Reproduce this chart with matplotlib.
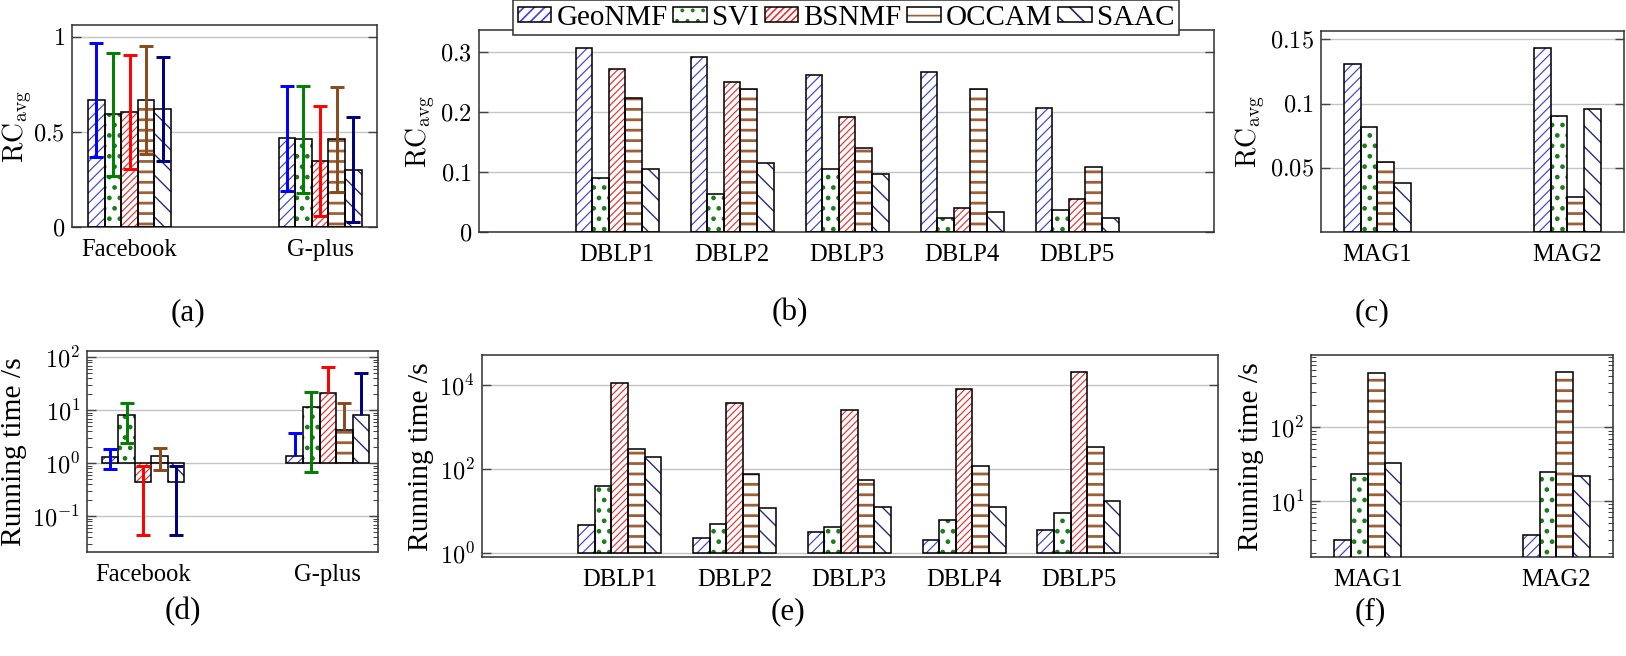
import matplotlib
matplotlib.use("Agg")
import matplotlib.pyplot as plt
import numpy as np
from matplotlib.patches import Patch
from matplotlib.ticker import FixedLocator, LogLocator, NullLocator, NullFormatter

plt.rcParams['font.family'] = ['Liberation Serif', 'DejaVu Serif']
plt.rcParams['mathtext.fontset'] = 'cm'
plt.rcParams['hatch.linewidth'] = 1.0

W, H, DPI = 1626, 656, 125

methods = ["GeoNMF", "SVI", "BSNMF", "OCCAM", "SAAC"]
hatch_colors = ['#4646dc', '#1d7d1d', '#e63636', '#9c5f38', '#2a2a78']
err_colors = ['#0000ff', '#008000', '#ff0000', '#8b4a1c', '#000080']
hatches = ['////', '..', '//////', '--', '\\\\']
hatch_lw = [0.7, 1.5, 0.7, 1.6, 0.8]

# (a) RC on Facebook / G-plus, mean and std
social = ["Facebook", "G-plus"]
rc_social = [[0.670, 0.468], [0.595, 0.463], [0.605, 0.348], [0.670, 0.463], [0.623, 0.304]]
rc_social_err = [[0.300, 0.277], [0.325, 0.283], [0.300, 0.288], [0.285, 0.278], [0.275, 0.277]]

# (b) RC on DBLP
dblp = ["DBLP1", "DBLP2", "DBLP3", "DBLP4", "DBLP5"]
rc_dblp = [[0.307, 0.292, 0.262, 0.267, 0.207],
           [0.090, 0.063, 0.105, 0.023, 0.037],
           [0.272, 0.250, 0.192, 0.040, 0.055],
           [0.223, 0.238, 0.140, 0.238, 0.108],
           [0.105, 0.115, 0.097, 0.033, 0.024]]

# (c) RC on MAG (no BSNMF)
mag = ["MAG1", "MAG2"]
mag_idx = [0, 1, 3, 4]
rc_mag = [[0.1305, 0.143], [0.082, 0.0906], [0.0547, 0.0273], [0.0383, 0.0961]]

# (d) running time on Facebook / G-plus, lower and upper error
time_social = [[1.30, 1.355], [8.05, 11.4], [0.444, 20.9], [1.355, 4.2], [0.444, 8.05]]
time_social_lo = [[0.53, 2.43], [5.6, 10.7], [0.40, 45.8], [0.62, 9.5], [0.40, 42.5]]
time_social_hi = [[0.59, 2.43], [5.9, 10.5], [0.446, 45.8], [0.62, 9.5], [0.446, 42.5]]

# (e) running time on DBLP
time_dblp = [[4.64, 2.28, 3.16, 2.04, 3.53],
             [40.1, 4.9, 4.16, 6.1, 8.96],
             [11160, 3728, 2540, 8035, 20400],
             [299, 76, 54.7, 118, 334],
             [193, 11.8, 12.5, 12.5, 17.3]]

# (f) running time on MAG
time_mag = [[2.92, 3.42], [23.0, 24.5], [547, 564], [32.5, 21.8]]


fig = plt.figure(figsize=(W / DPI, H / DPI), dpi=DPI)


def add_axes(l, r, t, b):
    return fig.add_axes([l / W, 1 - b / H, (r - l) / W, (b - t) / H])


def offsets(n, width):
    return (np.arange(n) - (n - 1) / 2) * width


def draw_bars(ax, values, idx, width, base=0.0):
    x = np.arange(len(values[0]))
    offs = offsets(len(idx), width)
    for k, m in enumerate(idx):
        xs = x + offs[k]
        v = np.asarray(values[k], dtype=float)
        bars = ax.bar(xs, v - base, width, bottom=base, color='white',
                      edgecolor=hatch_colors[m], hatch=hatches[m], linewidth=0, zorder=2)
        for b in bars:
            if hasattr(b, 'set_hatch_linewidth'):
                b.set_hatch_linewidth(hatch_lw[m])
        ax.bar(xs, v - base, width, bottom=base, fill=False, edgecolor='black',
               linewidth=0.9, zorder=3)


def draw_err(ax, values, lo, hi, idx, width):
    x = np.arange(len(values[0]))
    offs = offsets(len(idx), width)
    for k, m in enumerate(idx):
        xs = x + offs[k]
        v = np.asarray(values[k], dtype=float)
        low = v - np.asarray(lo[k])
        high = v + np.asarray(hi[k])
        ok = low > 0
        ax.vlines(xs, np.where(ok, low, v), high, colors=err_colors[m], lw=1.7, zorder=4)
        ax.plot(xs, high, ls='none', marker='_', ms=8.5, mew=1.7, color=err_colors[m], zorder=4)
        ax.plot(xs[ok], low[ok], ls='none', marker='_', ms=8.5, mew=1.7, color=err_colors[m], zorder=4)


def style(ax, labels, xlim, ylabel, mathlabel, label_x=None):
    ax.set_xlim(*xlim)
    ax.set_xticks(np.arange(len(labels)))
    ax.set_xticklabels(labels, fontsize=14.2)
    ax.tick_params(axis='x', length=0, pad=7)
    ax.tick_params(axis='y', which='both', direction='in', left=True, right=True,
                   labelsize=14, color='#444444', pad=4)
    ax.tick_params(axis='y', which='major', length=5, width=0.8)
    ax.tick_params(axis='y', which='minor', length=3, width=0.6)
    ax.set_axisbelow(True)
    ax.yaxis.grid(True, which='major', color='#c4c4c4', lw=0.8)
    for s in ax.spines.values():
        s.set_color('#333333')
        s.set_linewidth(0.9)
    if mathlabel:
        ax.set_ylabel(ylabel, fontsize=16, labelpad=2)
    else:
        ax.set_ylabel(ylabel, fontsize=17, labelpad=3)
    if label_x is not None:
        ax.yaxis.set_label_coords(label_x, 0.5)


rc_label = r'$\mathrm{RC}_{\mathrm{avg}}$'
time_label = 'Running time /s'

# (a)
ax = add_axes(72, 377, 25, 227.3)
draw_bars(ax, rc_social, range(5), 0.0872)
draw_err(ax, rc_social, rc_social_err, rc_social_err, range(5), 0.0872)
ax.set_ylim(0, 1.065)
ax.set_yticks([0, 0.5, 1])
ax.set_yticklabels(['$0$', '$0.5$', '$1$'])
style(ax, social, (-0.302, 1.299), rc_label, True, label_x=-0.126)

# (b)
ax = add_axes(479, 1214, 30, 232.3)
draw_bars(ax, rc_dblp, range(5), 0.1443)
ax.set_ylim(0, 0.337)
ax.set_yticks([0, 0.1, 0.2, 0.3])
ax.set_yticklabels(['$0$', '$0.1$', '$0.2$', '$0.3$'])
style(ax, dblp, (-1.2, 5.19), rc_label, True)

# (c)
ax = add_axes(1321, 1624, 30.7, 232.3)
draw_bars(ax, rc_mag, mag_idx, 0.0879)
ax.set_ylim(0, 0.1567)
ax.set_yticks([0.05, 0.1, 0.15])
ax.set_yticklabels(['$0.05$', '$0.1$', '$0.15$'])
style(ax, mag, (-0.296, 1.298), rc_label, True)


def log_ticks(ax, exps, minor=True):
    ax.yaxis.set_major_locator(FixedLocator([10.0 ** e for e in exps]))
    ax.set_yticklabels(['$10^{%d}$' % e for e in exps])
    if minor:
        ax.yaxis.set_minor_locator(LogLocator(base=10, subs=np.arange(2, 10)))
    else:
        ax.yaxis.set_minor_locator(NullLocator())
    ax.yaxis.set_minor_formatter(NullFormatter())


# (d)
ax = add_axes(87.3, 378, 350.7, 552)
ax.set_yscale('log')
draw_bars(ax, time_social, range(5), 0.0894, base=1.0)
draw_err(ax, time_social, time_social_lo, time_social_hi, range(5), 0.0894)
ax.set_ylim(10 ** -1.673, 10 ** 2.125)
log_ticks(ax, [-1, 0, 1, 2])
style(ax, social, (-0.302, 1.272), time_label, False)

# (e)
ax = add_axes(481.7, 1217.7, 355.3, 557.3)
ax.set_yscale('log')
draw_bars(ax, time_dblp, range(5), 0.1446, base=1.0)
ax.set_ylim(10 ** -0.095, 10 ** 4.714)
log_ticks(ax, [0, 2, 4], minor=False)
style(ax, dblp, (-1.203, 5.21), time_label, False)

# (f)
ax = add_axes(1311.3, 1612.7, 355.3, 557.3)
ax.set_yscale('log')
draw_bars(ax, time_mag, mag_idx, 0.089, base=1.0)
ax.set_ylim(10 ** 0.236, 10 ** 2.977)
log_ticks(ax, [1, 2])
style(ax, mag, (-0.30, 1.298), time_label, False)

# panel labels
for lab, px, py in [('(a)', 187.5, 313), ('(b)', 790, 313), ('(c)', 1372, 313),
                    ('(d)', 182.5, 612), ('(e)', 788, 612), ('(f)', 1370, 612)]:
    fig.text(px / W, 1 - py / H, lab, ha='center', va='center', fontsize=18)

# legend above (b)
handles = [(Patch(facecolor='white', edgecolor=hatch_colors[m], hatch=hatches[m], lw=0),
            Patch(fill=False, edgecolor='black', lw=0.9)) for m in range(5)]
leg = fig.legend(handles, methods, loc='upper center', bbox_to_anchor=(846 / W, 1 - 0.5 / H),
                 ncol=5, fontsize=16.7, handlelength=1.15, handleheight=0.45,
                 handletextpad=0.18, columnspacing=0.2, borderpad=0.15, borderaxespad=0,
                 fancybox=False, edgecolor='#333333', framealpha=1)
leg.get_frame().set_linewidth(0.9)

fig.savefig('out.png', dpi=DPI)
